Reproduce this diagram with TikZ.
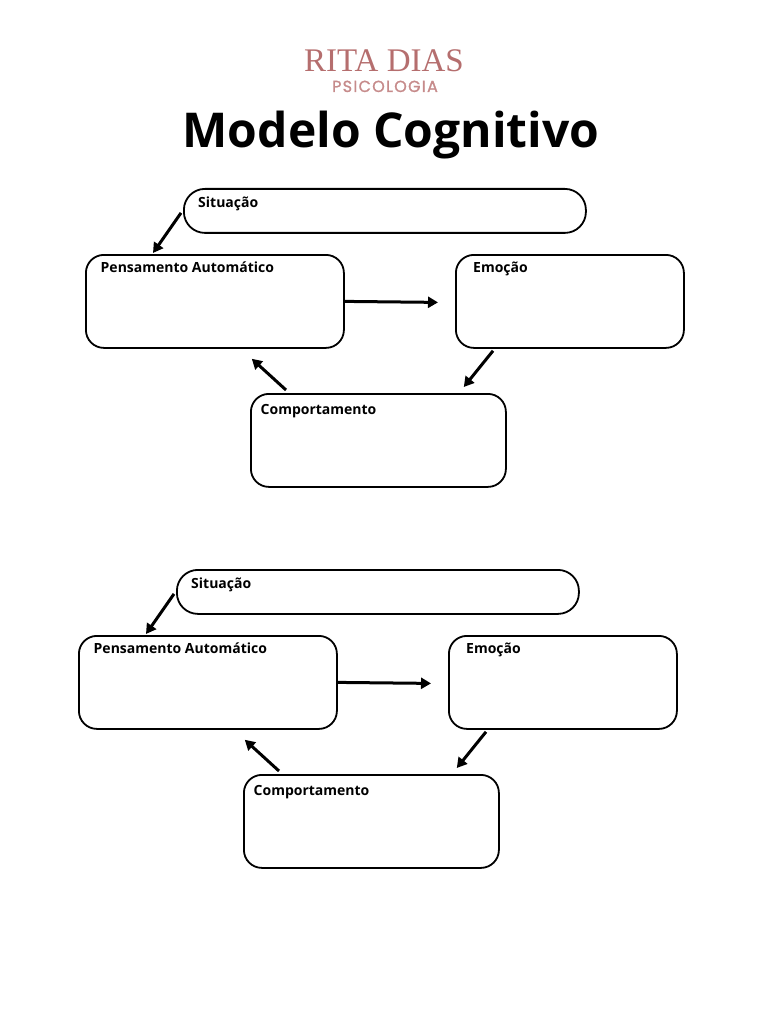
\documentclass[tikz,border=0pt]{standalone}
\usepackage{fontspec}
\setmainfont{Open Sans}
\newfontfamily\ritaserif{Liberation Serif}
\newfontfamily\ritasans[LetterSpace=8, FakeBold=1.3]{Poppins}
\usepackage{tikz}
\usetikzlibrary{positioning,arrows.meta,calc}
\definecolor{RDRose}{HTML}{B56E6E}
\definecolor{RDRoseLight}{HTML}{C68B8B}

\begin{document}
\begin{tikzpicture}[
  x=1pt, y=-1pt,
  mcbox/.style={draw=black, line width=1.8pt, fill=white, rounded corners=18pt, anchor=north west, inner sep=0pt},
  mclbl/.style={anchor=base west, inner sep=0pt, font=\bfseries\fontsize{14}{16}\selectfont},
  mcarrow/.style={-{Triangle[length=10pt,width=11pt]}, line width=3pt, black}
]
\useasboundingbox (0,0) rectangle (768,1024);
% cabecalho
\node[font=\ritaserif\fontsize{33}{36}\selectfont, text=RDRose] (brand) at (384,61) {RITA DIAS};
\node[font=\ritasans\fontsize{16}{18}\selectfont, text=RDRoseLight, anchor=base] (sub) at (385,92) {PSICOLOGIA};
\node[font=\bfseries\fontsize{48}{54}\selectfont, anchor=base] (title) at (391,148) {Modelo Cognitivo};
% dois esquemas iguais
\foreach \s/\dx/\dy in {1/0/0, 2/-7/381} {
  \begin{scope}[shift={(\dx,\dy)}]
    \node[mcbox, minimum width=402pt, minimum height=44pt, rounded corners=21pt,
      label={[mclbl, xshift=15pt, yshift=-19.5pt]north west:Situação}] (sit\s) at (183,188) {};
    \node[mcbox, minimum width=258pt, minimum height=93pt,
      label={[mclbl, xshift=15.5pt, yshift=-18pt]north west:Pensamento Automático}] (pens\s) at (85,254) {};
    \node[mcbox, minimum width=228pt, minimum height=93pt,
      label={[mclbl, xshift=18pt, yshift=-18pt]north west:Emoção}] (emo\s) at (455,254) {};
    \node[mcbox, minimum width=255pt, minimum height=93pt,
      label={[mclbl, xshift=10.5pt, yshift=-21pt]north west:Comportamento}] (comp\s) at (250,393) {};
    \draw[mcarrow] ($(sit\s.west)+(-2,2)$) -- ($(pens\s.north west)+(68,-1)$);
    \draw[mcarrow] (pens\s.east) -- ($(emo\s.west)+(-17,1)$);
    \draw[mcarrow] ($(emo\s.south west)+(38,2)$) -- ($(comp\s.north east)+(-43,-6)$);
    \draw[mcarrow] ($(comp\s.north west)+(36,-3)$) -- ($(pens\s.south east)+(-93,10)$);
  \end{scope}
}
\end{tikzpicture}
\end{document}
